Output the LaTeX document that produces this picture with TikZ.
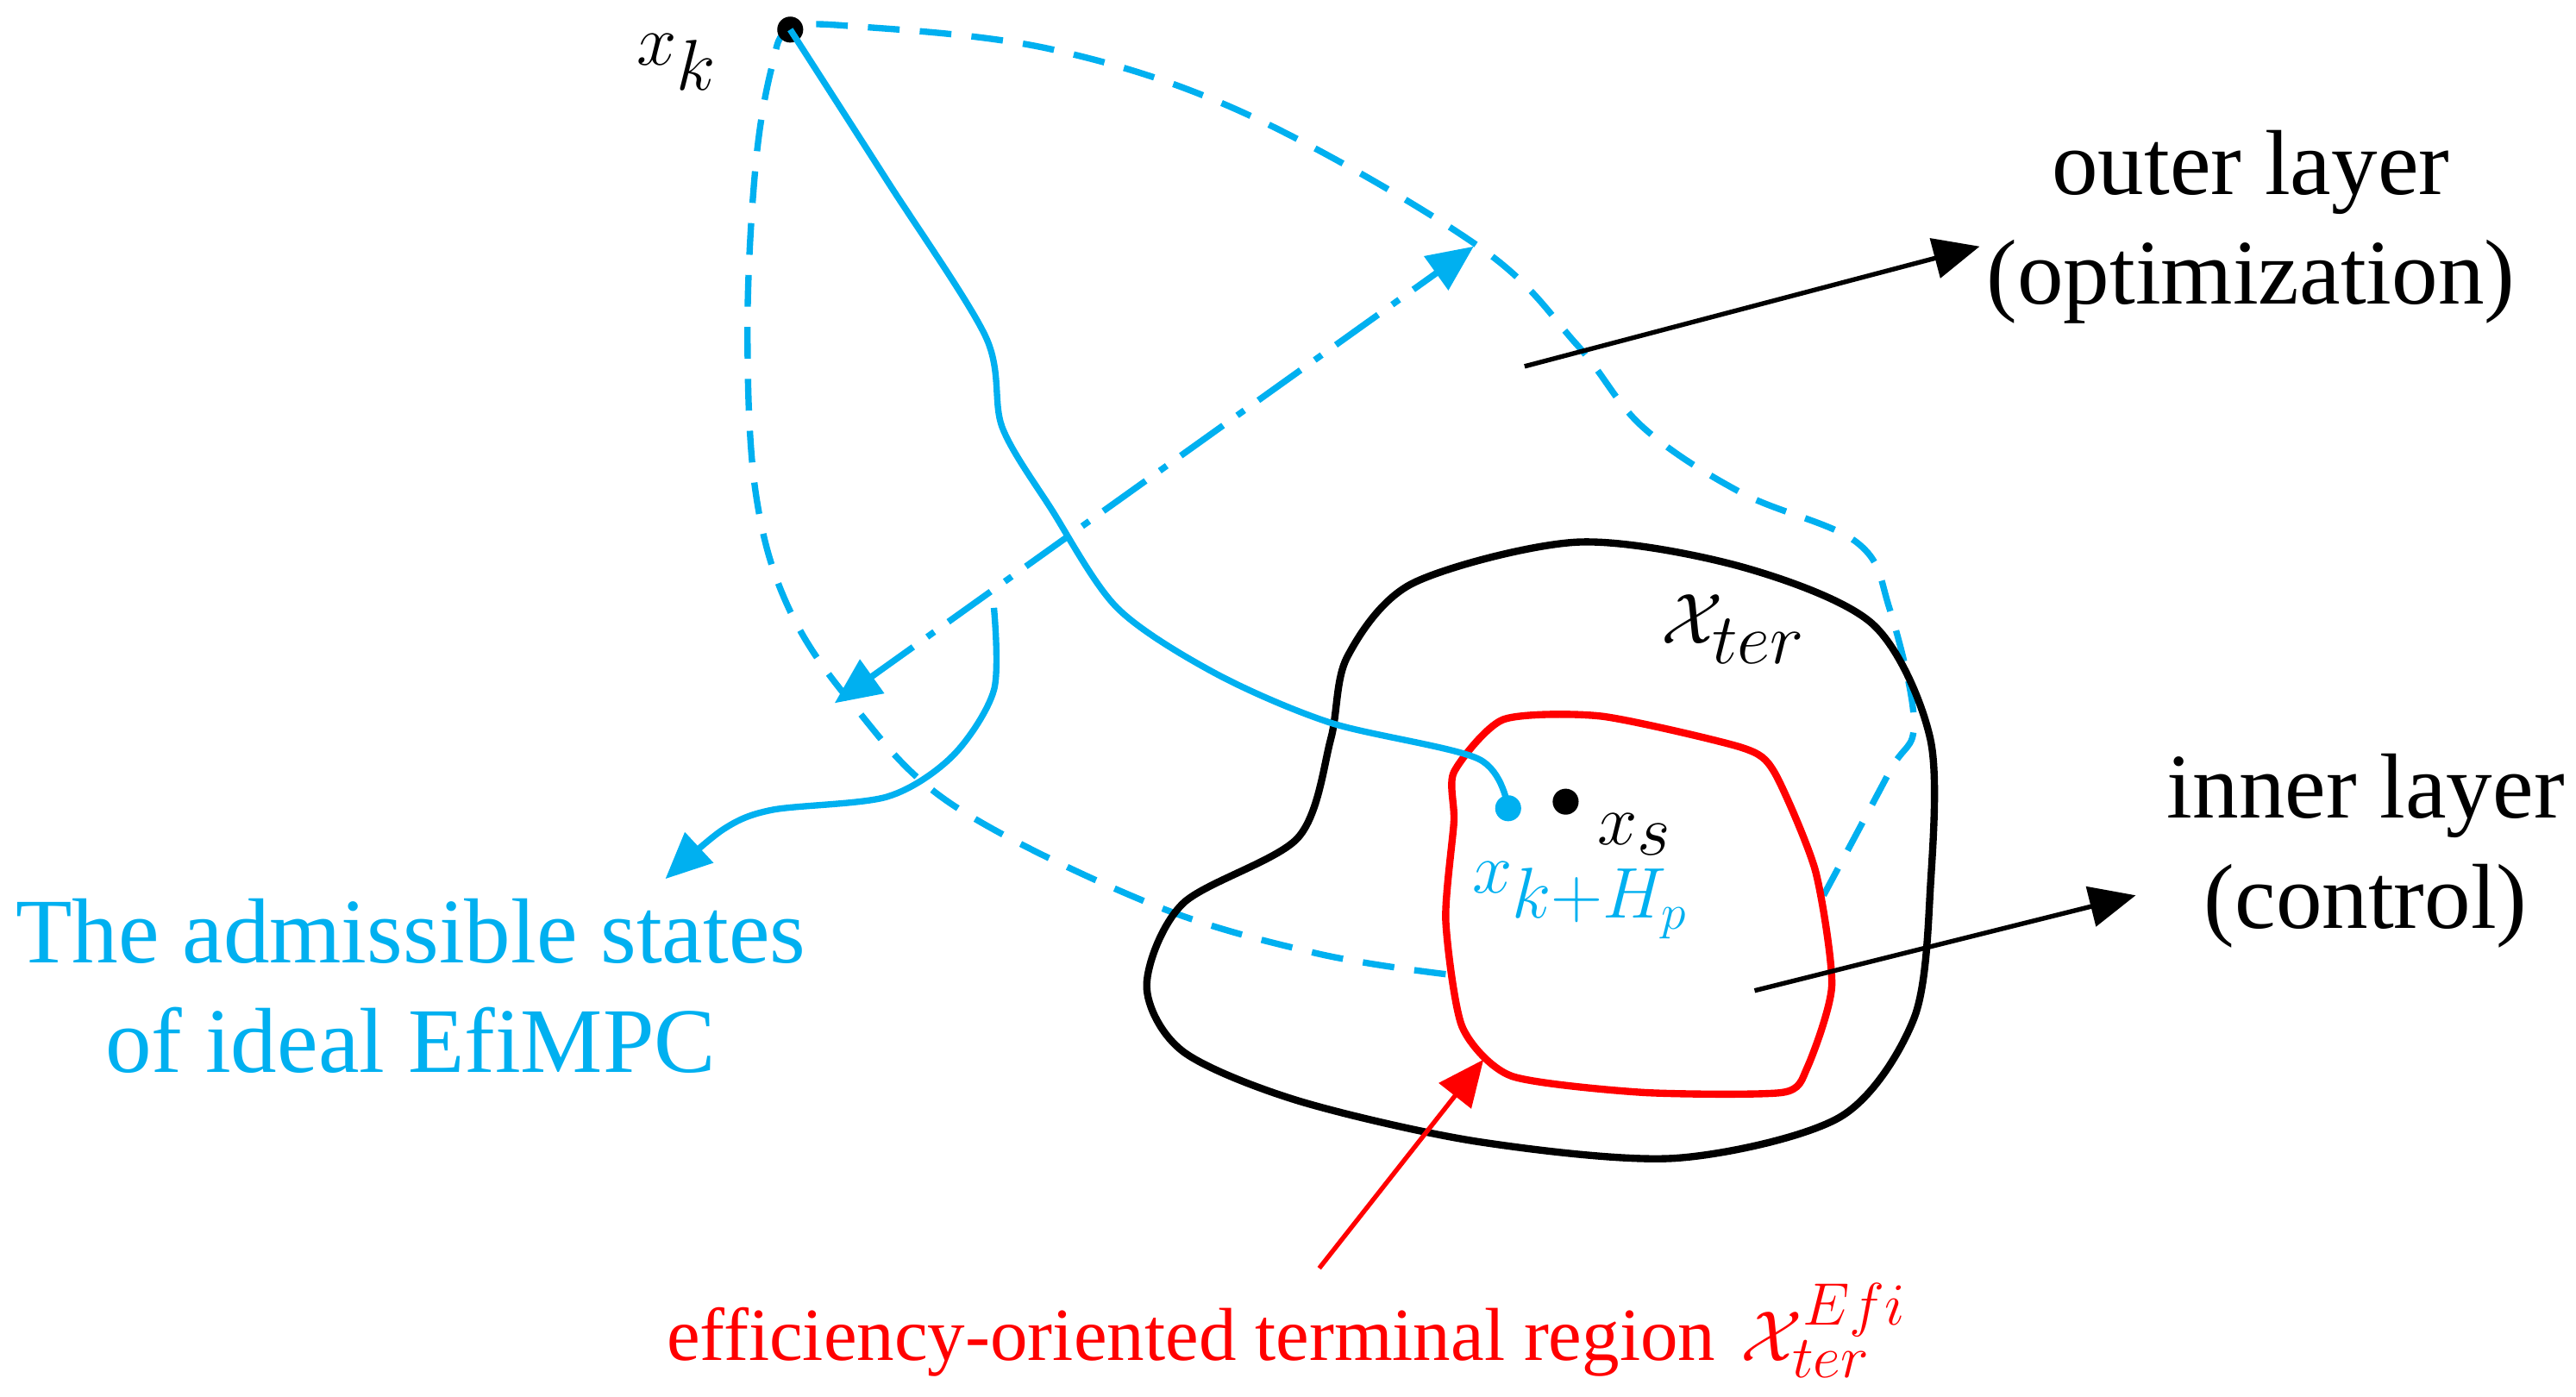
\documentclass[tikz,border=0pt]{standalone}
\usepackage{fontspec}
\setmainfont{Liberation Serif}
\usetikzlibrary{arrows.meta}
\definecolor{cb}{RGB}{0,176,240}
\begin{document}
\begin{tikzpicture}[x=0.02cm,y=-0.02cm,
  bl/.style={cb,line width=2.2pt},
  tip/.style={-{Triangle[length=16pt,width=14pt]}},
  big/.style={font=\fontsize{32}{38}\selectfont,align=center},
  lab/.style={font=\fontsize{36}{40}\selectfont}]
\useasboundingbox (0,0) rectangle (1568,850);
% dashed admissible region
\draw[bl,dash pattern=on 11pt off 7pt] plot[smooth,tension=0.6] coordinates {(880,593)(800,580)(700,550)(580,490)(520,430)(480,370)(460,300)(455,200)(460,100)(470,40)(481,18)(520,16)(640,30)(760,70)(900,150)(960,210)(1000,260)(1060,300)(1130,330)(1150,370)(1165,440)(1150,470)(1110,545)};
% black region
\draw[line width=2.5pt] plot[smooth cycle,tension=0.5] coordinates {(820,400)(860,355)(960,330)(1060,345)(1140,380)(1175,450)(1175,540)(1165,620)(1120,680)(1020,705)(900,695)(790,670)(720,640)(698,600)(720,550)(790,510)(810,450)};
% red region
\draw[red,line width=2.5pt] plot[smooth cycle,tension=0.4] coordinates {(885,470)(915,438)(975,436)(1060,455)(1080,470)(1105,530)(1115,600)(1100,650)(1085,665)(1000,665)(920,655)(890,625)(880,560)(885,500)};
% nodes
\coordinate (xk) at (481,18);
\coordinate (xh) at (918,492);
\coordinate (xs) at (953,488);
\fill (xk) circle (4.5pt);
\fill (xs) circle (4.5pt);
\fill[cb] (xh) circle (4.5pt);
\node[lab] (lk) at (412,38) {$x_k$};
\node[lab] (ls) at (995,508) {$x_s$};
\node[lab,cb] (lh) at (962,548) {$x_{k+H_p}$};
\node[font=\fontsize{40}{44}\selectfont] (lt) at (1055,383) {$\mathcal{X}_{ter}$};
% trajectory
\draw[bl] plot[smooth,tension=0.5] coordinates {(481,18)(540,110)(600,205)(610,260)(640,310)(680,370)(740,410)(810,440)(900,462)(918,492)};
% dash-dot double arrow
\coordinate (da) at (508,428);
\coordinate (db) at (897,150);
\draw[bl,dash pattern=on 18pt off 6pt on 3pt off 6pt,{Triangle[length=16pt,width=14pt]}-{Triangle[length=16pt,width=14pt]}] (da) -- (db);
% admissible label arrow
\node[big,cb] (adm) at (250,600) {The admissible states\\of ideal EfiMPC};
\draw[bl,tip] plot[smooth,tension=0.5] coordinates {(605,370)(605,420)(580,460)(540,485)(470,493)(440,505)(405,535)};
% outer layer
\node[big] (out) at (1370,138) {outer layer\\(optimization)};
\coordinate (oa) at (928,223);
\draw[line width=1.6pt,tip] (oa) -- (1205,150);
% inner layer
\node[big] (inn) at (1440,518) {inner layer\\(control)};
\coordinate (ia) at (1068,603);
\draw[line width=1.6pt,tip] (ia) -- (1300,545);
% red label
\node[red,font=\fontsize{26}{30}\selectfont,anchor=base] (efi) at (725,828) {efficiency-oriented terminal region};
\node[red,font=\fontsize{30}{34}\selectfont] (efm) at (1110,810) {$\mathcal{X}_{ter}^{Efi}$};
\coordinate (ra) at (803,772);
\draw[red,line width=1.6pt,tip] (ra) -- (903,645);
\end{tikzpicture}
\end{document}
